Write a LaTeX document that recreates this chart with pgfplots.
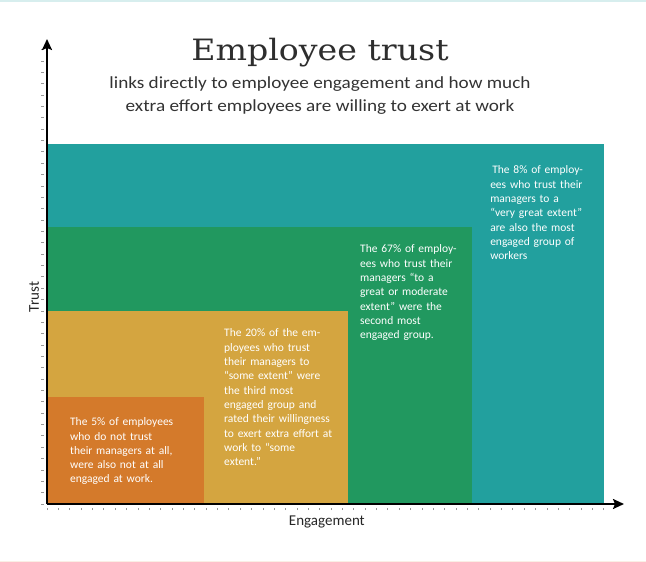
\documentclass[border=0pt]{standalone}
\usepackage{pgfplots}
\pgfplotsset{compat=1.18}
\usepackage{fontspec}
\usetikzlibrary{arrows.meta}
\setmainfont{Carlito}
\newfontfamily\titlefont{DejaVu Serif}[FakeStretch=1.13]
\newfontfamily\subfont{Carlito}[FakeStretch=1.13]

\definecolor{cteal}{RGB}{34,160,158}
\definecolor{cgreen}{RGB}{33,152,95}
\definecolor{cgold}{RGB}{212,165,64}
\definecolor{corange}{RGB}{212,122,43}

\tikzset{box/.style={anchor=base west, inner sep=0pt, text width=150bp, align=left,
    text=white, font=\fontsize{11.5bp}{14.3bp}\selectfont}}

\begin{document}
\begin{tikzpicture}
\path[use as bounding box] (0,0) rectangle (646bp,562bp);
\fill[white] (0,0) rectangle (646bp,562bp);
\fill[cteal!18] (0,560bp) rectangle (646bp,562bp);
\fill[corange!12] (0,0) rectangle (646bp,1.5bp);

\begin{axis}[
  at={(47bp,58bp)}, anchor=south west,
  scale only axis, width=577bp, height=465bp,
  xmin=0, xmax=50.79, ymin=0, ymax=40.93,
  enlargelimits=false,
  axis lines=left, axis on top,
  axis line style={line width=2bp, -{Stealth[length=11bp,width=10bp,inset=2bp]}},
  xtick={0,1,...,49}, ytick={0,1,...,40},
  xticklabel={\mbox{}}, yticklabel={\mbox{}},
  tick align=outside, major tick length=2.5bp,
  tick style={draw=gray!80, line width=0.7bp},
  x tick style={yshift=-3.5bp},
  y tick style={xshift=-3bp},
  xlabel={Engagement}, ylabel={Trust},
  label style={font=\fontsize{15bp}{18bp}\selectfont, text=black!85},
  xlabel style={at={(axis description cs:0.485,-0.0473)}, anchor=base},
  ylabel style={at={(axis description cs:-0.0139,0.445)}, anchor=base},
]
% nested groups: (engagement, trust) extent of each group
\addplot[fill=cteal, draw=none] coordinates {(0,0) (0,31.69) (49.03,31.69) (49.03,0)} -- cycle;
\addplot[fill=cgreen, draw=none] coordinates {(0,0) (0,24.38) (37.41,24.38) (37.41,0)} -- cycle;
\addplot[fill=cgold, draw=none] coordinates {(0,0) (0,16.99) (26.50,16.99) (26.50,0)} -- cycle;
\addplot[fill=corange, draw=none] coordinates {(0,0) (0,9.42) (13.82,9.42) (13.82,0)} -- cycle;

\node[box] at (axis cs:2.02,6.89) {The 5\% of employees\\who do not trust\\their managers at all,\\were also not at all\\engaged at work.};
\node[box] at (axis cs:15.58,14.70) {The 20\% of the em-\\ployees who trust\\their managers to\\“some extent” were\\the third most\\engaged group and\\rated their willingness\\to exert extra effort at\\work to “some\\extent.”};
\node[box] at (axis cs:27.55,22.10) {The 67\% of employ-\\ees who trust their\\managers “to a\\great or moderate\\extent” were the\\second most\\engaged group.};
\node[box] at (axis cs:39.0,29.05) {\hspace{2bp}The 8\% of employ-\\ees who trust their\\managers to a\\“very great extent”\\are also the most\\engaged group of\\workers};
\end{axis}

\node[anchor=base, inner sep=0pt, text=black!82, font=\titlefont\fontsize{29.4bp}{34bp}\selectfont] at (320bp,501bp) {Employee trust};
\node[anchor=base, inner sep=0pt, text=black!80, font=\subfont\fontsize{17bp}{20bp}\selectfont] at (320bp,473.3bp) {links directly to employee engagement and how much};
\node[anchor=base, inner sep=0pt, text=black!80, font=\subfont\fontsize{17bp}{20bp}\selectfont] at (320bp,450bp) {extra effort employees are willing to exert at work};
\end{tikzpicture}
\end{document}
